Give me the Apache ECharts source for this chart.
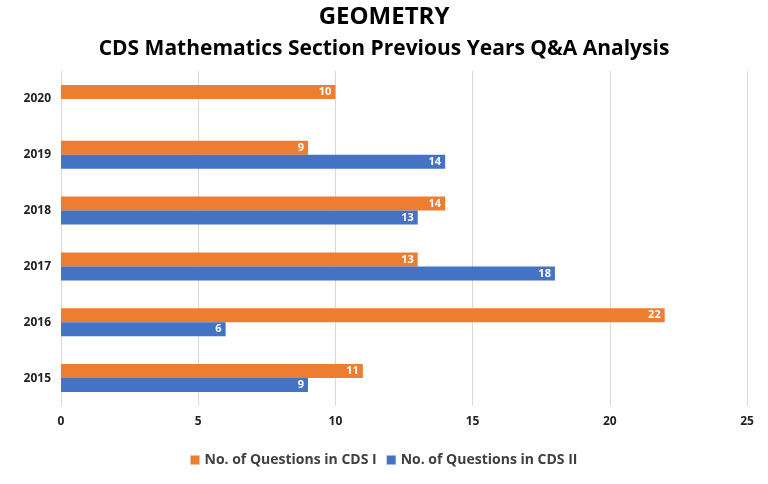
<!DOCTYPE html>
<html><head><meta charset="utf-8">
<script src="https://cdn.jsdelivr.net/npm/echarts@6/dist/echarts.min.js"></script>
<style>html,body{margin:0;padding:0;background:#fff}#c{width:768px;height:484px}</style>
</head><body><div id="c"></div>
<script>
const years = ['2015','2016','2017','2018','2019','2020'];
const cds1 = [11, 22, 13, 14, 9, 10];
const cds2 = [9, 6, 18, 13, 14, null];
const xTicks = [0, 5, 10, 15, 20, 25];

const chart = echarts.init(document.getElementById('c'));
const lbl = {show:true, position:'insideRight', color:'#fff', fontWeight:'bold', fontSize:11, fontFamily:'Open Sans', distance:4};
chart.setOption({
  animation:false,
  title:[
    {text:'GEOMETRY', left:'center', top:0, textStyle:{fontFamily:'Open Sans', fontWeight:'bold', fontSize:24, color:'#000'}},
    {text:'CDS Mathematics Section Previous Years Q&A Analysis', left:'center', top:34, textStyle:{fontFamily:'Open Sans', fontWeight:'bold', fontSize:21, color:'#000'}}
  ],
  legend:{data:['No. of Questions in CDS I','No. of Questions in CDS II'], bottom:12, left:'center', itemWidth:9, itemHeight:9, icon:'rect', itemGap:10,
    textStyle:{fontFamily:'Open Sans', fontSize:14, fontWeight:'bold', color:'#404040'}},
  grid:{left:61, right:21, top:71, bottom:78},
  xAxis:{type:'value', min:0, max:25, interval:5,
    axisLabel:{fontFamily:'Open Sans', fontWeight:'bold', fontSize:12, color:'#222', margin:10},
    splitLine:{lineStyle:{color:'#d9d9d9'}}, axisLine:{show:false}, axisTick:{show:false}},
  yAxis:{type:'category', data:years, inverse:false,
    axisLabel:{fontFamily:'Open Sans', fontWeight:'bold', fontSize:12, color:'#222', margin:10},
    axisLine:{lineStyle:{color:'#d9d9d9'}}, axisTick:{show:false}},
  series:[
    {name:'No. of Questions in CDS I', type:'bar', data:cds1, barWidth:14, barGap:'0%', itemStyle:{color:'#ed7d31'}, label:lbl},
    {name:'No. of Questions in CDS II', type:'bar', data:cds2, barWidth:14, barGap:'0%', itemStyle:{color:'#4472c4'}, label:lbl}
  ]
});
</script></body></html>
